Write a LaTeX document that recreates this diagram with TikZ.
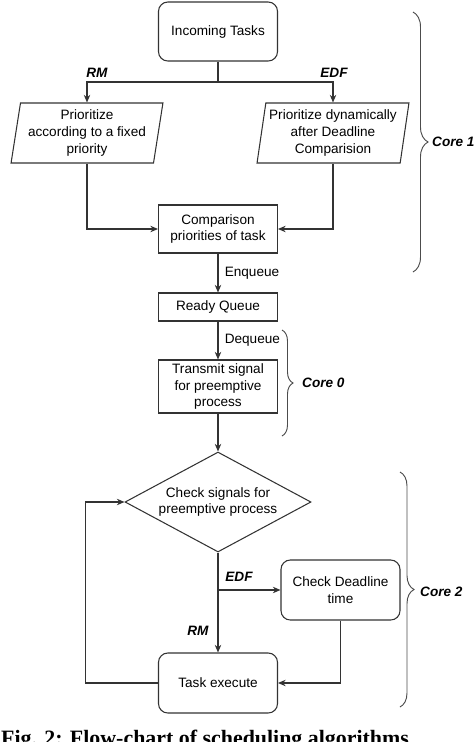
\documentclass[tikz,border=0pt]{standalone}
\usepackage{fontspec}
\setmainfont{Liberation Sans}
\newfontfamily\capfont{Liberation Serif}
\usetikzlibrary{shapes.geometric, arrows.meta, decorations.pathreplacing}

\begin{document}
\begin{tikzpicture}[
        x=0.03cm, y=-0.03cm,
        font=\fontsize{11.6}{14.2}\selectfont,
        line/.style={draw=black!80, line width=0.9pt},
        arrow/.style={line, -{Stealth[length=6.5pt, width=5.5pt]}},
        term/.style={line, rectangle, rounded corners=0.28cm, minimum width=3.57cm, minimum height=1.77cm, align=center, inner sep=2pt},
        box/.style={line, rectangle, minimum width=3.57cm, align=center, inner sep=2pt},
        io/.style={line, trapezium, trapezium left angle=80, trapezium right angle=100, trapezium stretches=true, minimum width=4.56cm, minimum height=1.8cm, align=center, inner sep=1pt},
        decision/.style={line, diamond, aspect=1.86, minimum width=5.58cm, minimum height=3cm, align=center, inner sep=0pt},
        tag/.style={font=\fontsize{11.6}{14.2}\selectfont\bfseries\itshape, inner sep=0pt},
        corebrace/.style={draw=black!70, line width=0.8pt, decorate, decoration={brace, amplitude=#1}}
    ]
        \useasboundingbox (0,0) rectangle (474,742);
        \clip (0,0) rectangle (474,742);

        % flow nodes
        \node[term] (start) at (218,31.5) {Incoming Tasks};
        \node[io] (fixed) at (87,133) {Prioritize\\according to a fixed\\priority};
        \node[io] (dyn) at (333,133) {Prioritize dynamically\\after Deadline\\Comparision};
        \node[box, minimum height=1.44cm] (cmp) at (218,229) {Comparison\\priorities of task};
        \node[box, minimum height=0.84cm] (ready) at (218,307) {Ready Queue};
        \node[box, minimum height=1.59cm] (signal) at (218,386.5) {Transmit signal\\for preemptive\\process};
        \node[decision] (check) at (218,502) {Check signals for\\preemptive process};
        \node[term, minimum height=1.8cm] (deadline) at (340.5,590) {Check Deadline\\time};
        \node[term, minimum height=1.8cm] (exec) at (218,683) {Task execute};

        \coordinate (split) at (218,82);
        \coordinate (fork) at (check.south |- deadline.west);

        % connectors
        \draw[line] (start) -- (split);
        \draw[arrow] (split) -| (fixed.north);
        \draw[arrow] (split) -| (dyn.north);
        \draw[arrow] (fixed.south) |- (cmp.west);
        \draw[arrow] (dyn.south) |- (cmp.east);
        \draw[arrow] (cmp) -- node[right, xshift=2pt] {Enqueue} (ready);
        \draw[arrow] (ready) -- node[right, xshift=2pt] {Dequeue} (signal);
        \draw[arrow] (signal) -- (check);
        \draw[arrow] (check) -- (exec);
        \draw[arrow] (fork) -- (deadline);
        \draw[arrow] (deadline.south) |- (exec.east);
        \draw[arrow] (exec.west) -- ++(-72,0) |- (check.west);

        % branch labels
        \node[tag] (rm1) at (97,73) {RM};
        \node[tag] (edf1) at (334,73) {EDF};
        \node[tag] (edf2) at (239,577) {EDF};
        \node[tag] (rm2) at (198,631) {RM};

        % cores
        \draw[corebrace=0.45cm] (413,12) -- (413,272);
        \node[tag, anchor=west] (core1) at (432,142) {Core 1};
        \draw[corebrace=0.33cm] (282,330) -- (282,436);
        \node[tag, anchor=west] (core0) at (302,383) {Core 0};
        \draw[corebrace=0.42cm] (400,472) -- (400,707);
        \node[tag, anchor=west] (core2) at (420,592) {Core 2};

        \node[anchor=base west, inner sep=0pt, font=\capfont\bfseries\fontsize{18.7}{22}\selectfont] (caption) at (1,745) {Fig. 2: Flow-chart of scheduling algorithms};
    \end{tikzpicture}
\end{document}
